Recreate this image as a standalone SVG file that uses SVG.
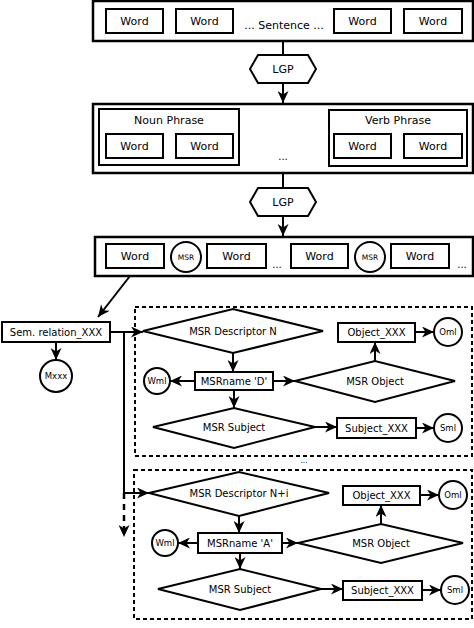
<svg xmlns="http://www.w3.org/2000/svg" width="474" height="628" viewBox="0 0 474 628">
<defs>
<marker id="ah" markerUnits="userSpaceOnUse" markerWidth="13" markerHeight="11" refX="12" refY="5.5" orient="auto">
<path d="M0,0 L12,5.5 L0,11 L3.5,5.5 z" fill="#000"/>
</marker>
<style>
.outer{fill:#fff;stroke:#000;stroke-width:2.5}
.box{fill:#fff;stroke:#000;stroke-width:2}
.dash{fill:none;stroke:#000;stroke-width:2;stroke-dasharray:4,3}
.ln{fill:none;stroke:#000;stroke-width:2}
.arr{fill:none;stroke:#000;stroke-width:2;marker-end:url(#ah)}
text{font-family:"DejaVu Sans",Verdana,sans-serif;fill:#000;text-anchor:middle}
.t11{font-size:11px}
.t10{font-size:10px}
.t8{font-size:8.5px}
.t7{font-size:7.5px}
</style>
</defs>
<rect width="474" height="628" fill="#fff"/>

<g id="connectors">
<path class="ln" d="M283,41 V55"/>
<path class="arr" d="M283,83 V103"/>
<path class="ln" d="M283,173 V188"/>
<path class="arr" d="M283,216 V236"/>
<path class="arr" d="M130,276 L98,317"/>
<path class="arr" d="M56,342 V360"/>
<path class="arr" d="M110,332 H143"/>
<path class="arr" d="M124,332 V493 H149"/>
<path d="M124,493 V537" fill="none" stroke="#000" stroke-width="2.5" stroke-dasharray="6,5" marker-end="url(#ah)"/>
<path class="arr" d="M233,353 V372"/>
<path class="arr" d="M195,381 H170"/>
<path class="arr" d="M273,381 H295"/>
<path class="arr" d="M375,361 V342"/>
<path class="arr" d="M415,332 H434"/>
<path class="arr" d="M234,390 V408"/>
<path class="arr" d="M315,427 H337"/>
<path class="arr" d="M416,428 H434"/>
<path class="arr" d="M239,516 V533"/>
<path class="arr" d="M198,543 H178"/>
<path class="arr" d="M282,543 H298"/>
<path class="arr" d="M381,524 V505"/>
<path class="arr" d="M420,495 H439"/>
<path class="arr" d="M240,553 V569"/>
<path class="arr" d="M321,589 H343"/>
<path class="arr" d="M422,590 H441"/>
</g>

<g id="sentence">
<rect class="outer" x="93" y="1" width="380" height="40"/>
<rect class="box" x="106" y="9" width="57" height="24"/><text class="t11" x="134.5" y="25">Word</text>
<rect class="box" x="176" y="9" width="57" height="24"/><text class="t11" x="204.5" y="25">Word</text>
<text class="t11" x="284" y="29">... Sentence ...</text>
<rect class="box" x="334" y="9" width="57" height="24"/><text class="t11" x="362.5" y="25">Word</text>
<rect class="box" x="404" y="9" width="58" height="24"/><text class="t11" x="433" y="25">Word</text>
</g>

<g id="lgp1">
<path class="box" d="M250,69 L258,55 H308 L316,69 L308,83 H258 Z"/>
<text class="t11" x="283" y="73">LGP</text>
</g>

<g id="phrases">
<rect class="outer" x="93" y="104" width="380" height="69"/>
<rect class="box" x="99" y="109" width="140" height="56"/>
<text class="t11" x="169" y="124">Noun Phrase</text>
<rect class="box" x="106" y="134" width="57" height="24"/><text class="t11" x="134.5" y="150">Word</text>
<rect class="box" x="176" y="134" width="57" height="24"/><text class="t11" x="204.5" y="150">Word</text>
<text class="t10" x="283" y="160">...</text>
<rect class="box" x="329" y="110" width="138" height="56"/>
<text class="t11" x="398" y="124">Verb Phrase</text>
<rect class="box" x="334" y="134" width="57" height="24"/><text class="t11" x="362.5" y="150">Word</text>
<rect class="box" x="404" y="134" width="58" height="24"/><text class="t11" x="433" y="150">Word</text>
</g>

<g id="lgp2">
<path class="box" d="M250,202 L258,188 H308 L316,202 L308,216 H258 Z"/>
<text class="t11" x="283" y="206">LGP</text>
</g>

<g id="msr-sentence">
<rect class="outer" x="95" y="237" width="378" height="39"/>
<rect class="box" x="106" y="244" width="58" height="24"/><text class="t11" x="135" y="260">Word</text>
<circle class="box" cx="186" cy="257" r="15"/><text class="t7" x="186" y="260">MSR</text>
<rect class="box" x="207" y="244" width="59" height="24"/><text class="t11" x="236.5" y="260">Word</text>
<text class="t10" x="277" y="268">...</text>
<rect class="box" x="291" y="244" width="57" height="24"/><text class="t11" x="319.5" y="260">Word</text>
<circle class="box" cx="370" cy="257" r="15"/><text class="t7" x="370" y="260">MSR</text>
<rect class="box" x="391" y="244" width="58" height="24"/><text class="t11" x="420" y="260">Word</text>
<text class="t10" x="462" y="268">...</text>
</g>

<g id="sem-relation">
<rect class="box" x="2" y="322" width="108" height="20"/>
<text class="t10" x="56" y="336">Sem. relation_XXX</text>
</g>
<g id="mxxx">
<circle class="box" cx="56" cy="376" r="16"/>
<text class="t8" x="56" y="379">Mxxx</text>
</g>

<g id="panel1">
<rect class="dash" x="135" y="307" width="337" height="149"/>
</g>
<g id="desc-n">
<path class="box" d="M143,331 L233,309 L323,331 L233,353 Z"/>
<text class="t10" x="233" y="335">MSR Descriptor N</text>
</g>
<g id="msrname-d">
<rect class="box" x="195" y="372" width="78" height="18"/>
<text class="t10" x="234" y="385">MSRname 'D'</text>
</g>
<g id="wml1">
<circle class="box" cx="157" cy="381" r="13"/>
<text class="t8" x="157" y="384">Wml</text>
</g>
<g id="msr-object1">
<path class="box" d="M295,381 L375,361 L455,381 L375,402 Z"/>
<text class="t10" x="375" y="385">MSR Object</text>
</g>
<g id="object1">
<rect class="box" x="338" y="323" width="77" height="19"/>
<text class="t10" x="376.5" y="336">Object_XXX</text>
</g>
<g id="oml1">
<circle class="box" cx="448" cy="332" r="14"/>
<text class="t8" x="448" y="335">Oml</text>
</g>
<g id="msr-subject1">
<path class="box" d="M153,427 L234,408 L315,427 L234,448 Z"/>
<text class="t10" x="234" y="431">MSR Subject</text>
</g>
<g id="subject1">
<rect class="box" x="337" y="418" width="79" height="20"/>
<text class="t10" x="376.5" y="432">Subject_XXX</text>
</g>
<g id="sml1">
<circle class="box" cx="448" cy="428" r="14"/>
<text class="t8" x="448" y="431">Sml</text>
</g>

<text class="t7" x="304" y="463">...</text>

<g id="panel2">
<rect class="dash" x="134" y="470" width="338" height="149"/>
</g>
<g id="desc-ni">
<path class="box" d="M149,493 L239,472 L329,493 L239,516 Z"/>
<text class="t10" x="239" y="497">MSR Descriptor N+i</text>
</g>
<g id="msrname-a">
<rect class="box" x="198" y="533" width="84" height="20"/>
<text class="t10" x="240" y="547">MSRname 'A'</text>
</g>
<g id="wml2">
<circle class="box" cx="165" cy="543" r="13"/>
<text class="t8" x="165" y="546">Wml</text>
</g>
<g id="msr-object2">
<path class="box" d="M298,543 L381,524 L463,543 L381,563 Z"/>
<text class="t10" x="381" y="547">MSR Object</text>
</g>
<g id="object2">
<rect class="box" x="343" y="486" width="77" height="19"/>
<text class="t10" x="381.5" y="499">Object_XXX</text>
</g>
<g id="oml2">
<circle class="box" cx="453" cy="495" r="14"/>
<text class="t8" x="453" y="498">Oml</text>
</g>
<g id="msr-subject2">
<path class="box" d="M158,589 L240,569 L321,589 L240,610 Z"/>
<text class="t10" x="240" y="593">MSR Subject</text>
</g>
<g id="subject2">
<rect class="box" x="343" y="581" width="79" height="19"/>
<text class="t10" x="382.5" y="594">Subject_XXX</text>
</g>
<g id="sml2">
<circle class="box" cx="455" cy="590" r="14"/>
<text class="t8" x="455" y="593">Sml</text>
</g>
</svg>
